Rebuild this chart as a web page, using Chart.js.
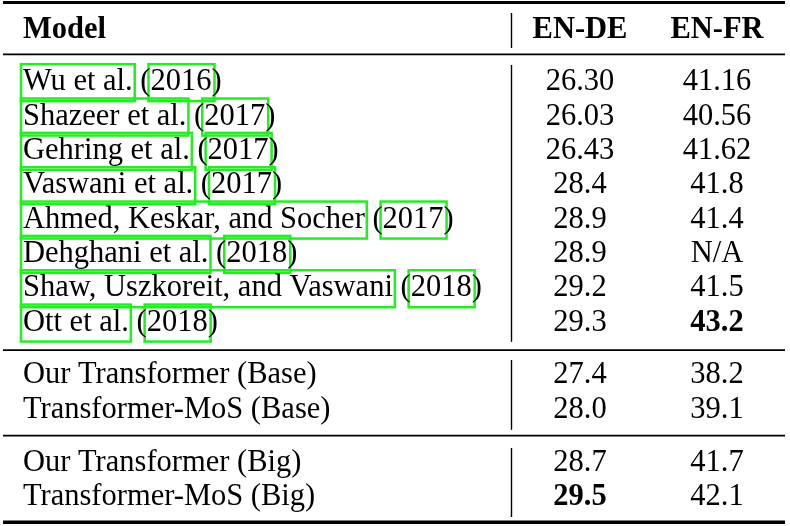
<!DOCTYPE html>
<html>
<head>
<meta charset="utf-8">
<script src="https://cdn.jsdelivr.net/npm/chart.js@4.4.1/dist/chart.umd.min.js"></script>
<style>
  body { margin: 0; background: #fff; }
  #wrap { width: 790px; height: 526px; position: relative; }
</style>
</head>
<body>
<div id="wrap"><canvas id="myChart"></canvas></div>
<script>
// table content
var columns = ['Model', 'EN-DE', 'EN-FR'];
var paperAuthors = ['Wu et al.', 'Shazeer et al.', 'Gehring et al.', 'Vaswani et al.',
    'Ahmed, Keskar, and Socher', 'Dehghani et al.', 'Shaw, Uszkoreit, and Vaswani', 'Ott et al.'];
var paperYears = ['2016', '2017', '2017', '2017', '2017', '2018', '2018', '2018'];
var ourModels = ['Our Transformer (Base)', 'Transformer-MoS (Base)',
    'Our Transformer (Big)', 'Transformer-MoS (Big)'];
var enDe = ['26.30', '26.03', '26.43', '28.4', '28.9', '28.9', '29.2', '29.3', '27.4', '28.0', '28.7', '29.5'];
var enFr = ['41.16', '40.56', '41.62', '41.8', '41.4', 'N/A', '41.5', '43.2', '38.2', '39.1', '41.7', '42.1'];
var rowGroup = [0, 0, 0, 0, 0, 0, 0, 0, 1, 1, 2, 2];
var boldEnDe = [11];
var boldEnFr = [7];

// layout (x in px units, y in row units)
var colX = [23, 580, 717];
var sepX = 511.5;
var ruleX = [3, 785];
var rules = [{ y: -0.74, w: 3 }, { y: 0.77, w: 1.8 }, { y: 9.38, w: 1.8 }, { y: 11.87, w: 1.8 }, { y: 14.39, w: 3.5 }];
var seps = [[-0.44, 0.58], [1.08, 9.14], [9.67, 11.7], [12.23, 14.24]];
var FONT = '"Liberation Serif", "Times New Roman", serif';
var SIZE = 30.5;

function rowSlot(i) {
    return 1.52 + i + rowGroup[i] * 0.54;
}

var modelLabels = [];
for (var i = 0; i < paperAuthors.length; i++) modelLabels.push({ author: paperAuthors[i], year: paperYears[i] });
for (var j = 0; j < ourModels.length; j++) modelLabels.push({ text: ourModels[j] });

var datasets = [];

rules.forEach(function (r) {
    datasets.push({
        type: 'line', data: [{ x: ruleX[0], y: r.y }, { x: ruleX[1], y: r.y }],
        borderColor: '#000', borderWidth: r.w, pointRadius: 0, clip: false
    });
});
seps.forEach(function (s) {
    datasets.push({
        type: 'line', data: [{ x: sepX, y: s[0] }, { x: sepX, y: s[1] }],
        borderColor: '#000', borderWidth: 1.4, pointRadius: 0, clip: false
    });
});

// header cells
datasets.push({
    type: 'scatter', cells: columns.map(function (c) { return { text: c, bold: true }; }),
    align: ['left', 'center', 'center'],
    data: columns.map(function (c, k) { return { x: colX[k], y: 0 }; }),
    pointRadius: 0
});
// model column
datasets.push({
    type: 'scatter', cells: modelLabels, align: 'left',
    data: modelLabels.map(function (m, k) { return { x: colX[0], y: rowSlot(k) }; }),
    pointRadius: 0
});
// score columns
datasets.push({
    type: 'scatter', align: 'center',
    cells: enDe.map(function (v, k) { return { text: v, bold: boldEnDe.indexOf(k) >= 0 }; }),
    data: enDe.map(function (v, k) { return { x: colX[1], y: rowSlot(k) }; }),
    pointRadius: 0
});
datasets.push({
    type: 'scatter', align: 'center',
    cells: enFr.map(function (v, k) { return { text: v, bold: boldEnFr.indexOf(k) >= 0 }; }),
    data: enFr.map(function (v, k) { return { x: colX[2], y: rowSlot(k) }; }),
    pointRadius: 0
});

var cellText = {
    id: 'cellText',
    afterDatasetsDraw: function (chart) {
        var ctx = chart.ctx;
        ctx.save();
        ctx.textBaseline = 'alphabetic';
        chart.data.datasets.forEach(function (ds, di) {
            if (!ds.cells) return;
            var meta = chart.getDatasetMeta(di);
            meta.data.forEach(function (el, k) {
                var cell = ds.cells[k];
                var x = el.x, y = el.y + 10;
                var align = Array.isArray(ds.align) ? ds.align[k] : ds.align;
                ctx.fillStyle = '#000';
                if (cell.author) {
                    // citation with link boxes
                    ctx.font = SIZE + 'px ' + FONT;
                    ctx.textAlign = 'left';
                    var wA = ctx.measureText(cell.author).width;
                    var wP = ctx.measureText(' (').width;
                    var wY = ctx.measureText(cell.year).width;
                    ctx.strokeStyle = '#22ee22';
                    ctx.lineWidth = 2.5;
                    ctx.strokeRect(x - 2, el.y - 16, wA + 4, 37);
                    ctx.strokeRect(x + wA + wP - 2, el.y - 16, wY + 5, 37);
                    ctx.fillText(cell.author + ' (' + cell.year + ')', x, y);
                } else {
                    ctx.font = (cell.bold ? 'bold ' : '') + SIZE + 'px ' + FONT;
                    ctx.textAlign = align;
                    ctx.fillText(cell.text, x, y);
                }
            });
        });
        ctx.restore();
    }
};

var myChart = new Chart(document.getElementById('myChart').getContext('2d'), {
    data: { datasets: datasets },
    options: {
        responsive: true,
        maintainAspectRatio: false,
        animation: { duration: 0 },
        layout: { padding: 0 },
        plugins: { legend: { display: false }, tooltip: { enabled: false } },
        scales: {
            x: { type: 'linear', display: false, min: 0, max: 790 },
            y: { type: 'linear', display: false, min: -0.815, max: 14.502, reverse: true }
        }
    },
    plugins: [cellText]
});
</script>
</body>
</html>
